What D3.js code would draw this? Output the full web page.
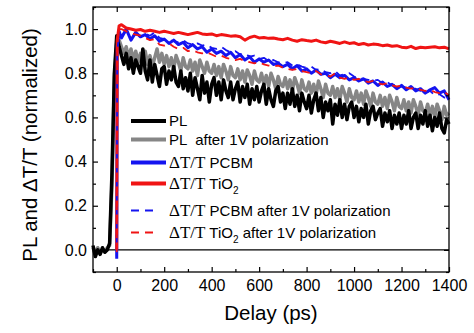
<!DOCTYPE html>
<html>
<head>
<meta charset="utf-8">
<script src="https://cdnjs.cloudflare.com/ajax/libs/d3/7.8.5/d3.min.js"></script>
<style>
body { margin: 0; background: #fff; }
text { font-family: "Liberation Sans", Arial, sans-serif; fill: #000; }
</style>
</head>
<body>
<svg id="chart" width="474" height="333"></svg>
<script>
// PL traces, delay in ps (10 ps steps)
var plDelay = [
  -100,-90,-80,-70,-60,-50,-40,-30,-20,-10,
  0,10,20,30,40,50,60,70,80,90,
  100,110,120,130,140,150,160,170,180,190,
  200,210,220,230,240,250,260,270,280,290,
  300,310,320,330,340,350,360,370,380,390,
  400,410,420,430,440,450,460,470,480,490,
  500,510,520,530,540,550,560,570,580,590,
  600,610,620,630,640,650,660,670,680,690,
  700,710,720,730,740,750,760,770,780,790,
  800,810,820,830,840,850,860,870,880,890,
  900,910,920,930,940,950,960,970,980,990,
  1000,1010,1020,1030,1040,1050,1060,1070,1080,1090,
  1100,1110,1120,1130,1140,1150,1160,1170,1180,1190,
  1200,1210,1220,1230,1240,1250,1260,1270,1280,1290,
  1300,1310,1320,1330,1340,1350,1360,1370,1380,1390,
  1400];

var plFresh = [
  0.02,-0.03,0.0,-0.02,0.01,-0.01,0.0,0.03,0.35,0.80,
  0.97,0.92,0.88,0.84,0.89,0.82,0.87,0.80,0.86,0.83,
  0.80,0.91,0.81,0.77,0.86,0.76,0.84,0.79,0.74,0.82,
  0.83,0.75,0.81,0.77,0.83,0.76,0.74,0.81,0.73,0.78,
  0.72,0.80,0.70,0.78,0.73,0.68,0.79,0.71,0.76,0.67,
  0.75,0.78,0.70,0.76,0.68,0.77,0.72,0.69,0.76,0.68,
  0.73,0.76,0.67,0.74,0.69,0.75,0.66,0.73,0.68,0.74,
  0.67,0.72,0.75,0.66,0.73,0.68,0.65,0.72,0.74,0.67,
  0.71,0.64,0.71,0.66,0.73,0.65,0.70,0.63,0.71,0.67,
  0.64,0.70,0.62,0.68,0.71,0.63,0.69,0.60,0.67,0.63,
  0.68,0.57,0.66,0.61,0.68,0.60,0.66,0.59,0.65,0.67,
  0.60,0.65,0.58,0.64,0.60,0.66,0.57,0.63,0.65,0.59,
  0.62,0.64,0.56,0.62,0.58,0.63,0.55,0.61,0.57,0.62,
  0.55,0.61,0.57,0.63,0.55,0.60,0.62,0.55,0.61,0.57,
  0.63,0.56,0.61,0.54,0.60,0.56,0.62,0.55,0.53,0.59,
  0.57];

var plPolarized = [
  0.01,-0.02,0.01,-0.01,0.0,-0.01,0.01,0.02,0.30,0.78,
  0.94,0.95,0.92,0.89,0.92,0.87,0.91,0.86,0.90,0.85,
  0.89,0.85,0.90,0.84,0.88,0.83,0.87,0.91,0.85,0.89,
  0.84,0.88,0.83,0.87,0.82,0.88,0.85,0.81,0.87,0.83,
  0.82,0.86,0.81,0.85,0.79,0.86,0.83,0.80,0.85,0.81,
  0.80,0.84,0.79,0.83,0.78,0.84,0.81,0.77,0.83,0.79,
  0.78,0.82,0.77,0.81,0.76,0.815,0.79,0.75,0.81,0.77,
  0.76,0.80,0.75,0.79,0.74,0.80,0.77,0.73,0.785,0.75,
  0.74,0.78,0.73,0.77,0.72,0.78,0.75,0.71,0.77,0.73,
  0.72,0.76,0.71,0.75,0.70,0.765,0.73,0.69,0.75,0.71,
  0.70,0.74,0.69,0.73,0.68,0.74,0.71,0.67,0.73,0.69,
  0.68,0.72,0.67,0.71,0.66,0.72,0.69,0.65,0.71,0.67,
  0.66,0.70,0.65,0.69,0.64,0.70,0.67,0.63,0.69,0.65,
  0.64,0.68,0.63,0.67,0.62,0.68,0.65,0.61,0.67,0.63,
  0.62,0.66,0.61,0.65,0.60,0.66,0.63,0.59,0.65,0.61,
  0.62];

// transient transmission traces, delay in ps
var taDelay = [
  0,2,10,
  20,40,60,80,100,120,140,160,180,200,
  220,240,260,280,300,320,340,360,380,400,
  420,440,460,480,500,520,540,560,580,600,
  620,640,660,680,700,720,740,760,780,800,
  820,840,860,880,900,920,940,960,980,1000,
  1020,1040,1060,1080,1100,1120,1140,1160,1180,1200,
  1220,1240,1260,1280,1300,1320,1340,1360,1380,1400];

var taPCBM = [
  -0.04,0.92,0.99,
  0.96,1.0,0.95,0.985,0.965,0.975,0.955,0.97,0.945,0.955,
  0.935,0.95,0.93,0.94,0.915,0.93,0.91,0.92,0.895,0.91,
  0.89,0.90,0.88,0.895,0.87,0.885,0.86,0.875,0.85,0.865,
  0.85,0.86,0.84,0.845,0.83,0.84,0.82,0.835,0.81,0.82,
  0.80,0.815,0.795,0.80,0.78,0.795,0.78,0.79,0.77,0.78,
  0.765,0.775,0.755,0.765,0.745,0.76,0.74,0.75,0.73,0.745,
  0.725,0.74,0.72,0.73,0.71,0.725,0.735,0.71,0.72,0.68];

var taTiO2 = [
  0.0,0.95,1.015,
  1.02,1.005,1.0,0.995,0.998,0.99,0.995,0.99,0.985,0.99,
  0.985,0.98,0.985,0.98,0.975,0.98,0.985,0.978,0.975,0.978,
  0.97,0.975,0.972,0.968,0.97,0.965,0.95,0.962,0.968,0.96,
  0.962,0.958,0.96,0.955,0.952,0.958,0.95,0.945,0.952,0.948,
  0.945,0.95,0.942,0.938,0.945,0.94,0.935,0.942,0.935,0.938,
  0.93,0.935,0.928,0.932,0.93,0.925,0.928,0.922,0.925,0.918,
  0.915,0.922,0.912,0.918,0.915,0.918,0.92,0.915,0.918,0.91];

var taPCBMPolarized = [
  -0.03,0.9,0.97,
  0.97,0.99,0.98,0.975,0.97,0.98,0.97,0.985,0.96,0.955,
  0.95,0.945,0.94,0.95,0.935,0.93,0.935,0.925,0.93,0.915,
  0.91,0.92,0.905,0.895,0.90,0.885,0.89,0.875,0.88,0.865,
  0.87,0.855,0.86,0.85,0.845,0.85,0.835,0.84,0.83,0.825,
  0.83,0.815,0.82,0.805,0.80,0.81,0.79,0.795,0.80,0.785,
  0.78,0.775,0.77,0.765,0.77,0.755,0.76,0.745,0.75,0.74,
  0.735,0.725,0.73,0.72,0.71,0.72,0.70,0.705,0.69,0.69];

var taTiO2Polarized = [
  -0.01,0.92,1.0,
  1.0,0.99,0.98,0.975,0.97,0.96,0.95,0.955,0.93,0.925,
  0.935,0.92,0.91,0.915,0.90,0.905,0.895,0.89,0.895,0.885,
  0.875,0.88,0.87,0.865,0.86,0.865,0.855,0.85,0.845,0.85,
  0.84,0.835,0.83,0.835,0.825,0.82,0.815,0.82,0.81,0.805,
  0.80,0.81,0.795,0.79,0.785,0.80,0.78,0.775,0.78,0.77,
  0.775,0.765,0.76,0.765,0.755,0.75,0.755,0.745,0.74,0.745,
  0.735,0.73,0.735,0.725,0.72,0.725,0.715,0.71,0.715,0.70];

var xTicks = [0,200,400,600,800,1000,1200,1400];
var xMinorTicks = [-100,100,300,500,700,900,1100,1300];
var yTicks = [0.0,0.2,0.4,0.6,0.8,1.0];
var yMinorTicks = [-0.1,0.1,0.3,0.5,0.7,0.9,1.1];

// legend text pieces: [text, kind] kind: s = sans, d = serif delta part, sub = subscript
var legendLabels = [
  [["PL","s"]],
  [["PL  after 1V polarization","s"]],
  [["\u0394T/T","d"],[" PCBM","s"]],
  [["\u0394T/T","d"],[" TiO","s"],["2","sub"]],
  [["\u0394T/T","d"],[" PCBM after 1V polarization","s"]],
  [["\u0394T/T","d"],[" TiO","s"],["2","sub"],[" after 1V polarization","s"]]
];

var series = [
  {delay: plDelay, values: plPolarized, color: "#868686", width: 3.5, dash: null, legend: 1},
  {delay: plDelay, values: plFresh, color: "#000000", width: 3.5, dash: null, legend: 0},
  {delay: taDelay, values: taPCBM, color: "#1414f0", width: 3, dash: null, legend: 2},
  {delay: taDelay, values: taTiO2, color: "#f01414", width: 3, dash: null, legend: 3},
  {delay: taDelay, values: taPCBMPolarized, color: "#1414f0", width: 1.8, dash: "8,6", legend: 4},
  {delay: taDelay, values: taTiO2Polarized, color: "#f01414", width: 1.8, dash: "8,6", legend: 5}
];

var mLeft = 93, mRight = 449, mTop = 7, mBottom = 272;

var svg = d3.select("#chart");

var x = d3.scaleLinear().domain([-100, 1400]).range([mLeft, mRight]);
var y = d3.scaleLinear().domain([-0.1, 1.1]).range([mBottom, mTop]);

// zero line
svg.append("line")
    .attr("x1", mLeft).attr("x2", mRight)
    .attr("y1", y(0)).attr("y2", y(0))
    .attr("stroke", "#000").attr("stroke-width", 1.2);

// curves
var lineGen = d3.line()
    .x(function(d) { return x(d[0]); })
    .y(function(d) { return y(d[1]); });

var plot = svg.append("g");
series.forEach(function(s) {
    var pts = s.delay.map(function(t, i) { return [t, s.values[i]]; });
    plot.append("path")
        .datum(pts)
        .attr("d", lineGen)
        .attr("fill", "none")
        .attr("stroke", s.color)
        .attr("stroke-width", s.width)
        .attr("stroke-linejoin", "round")
        .attr("stroke-dasharray", s.dash);
});

// axes with inward ticks on all sides
function styleAxis(g) {
    g.select(".domain").remove();
    g.selectAll(".tick line").attr("stroke", "#000").attr("stroke-width", 1.2);
    g.selectAll("text").style("font-size", "16px").attr("font-family", null);
}

svg.append("g").attr("transform", "translate(0," + mBottom + ")")
    .call(d3.axisBottom(x).tickValues(xTicks).tickSize(-5).tickPadding(8).tickFormat(d3.format("d")))
    .call(styleAxis);
svg.append("g").attr("transform", "translate(0," + mBottom + ")")
    .call(d3.axisBottom(x).tickValues(xMinorTicks).tickSize(-3).tickFormat(""))
    .call(styleAxis);
svg.append("g").attr("transform", "translate(0," + mTop + ")")
    .call(d3.axisTop(x).tickValues(xTicks).tickSize(-5).tickFormat(""))
    .call(styleAxis);
svg.append("g").attr("transform", "translate(0," + mTop + ")")
    .call(d3.axisTop(x).tickValues(xMinorTicks).tickSize(-3).tickFormat(""))
    .call(styleAxis);

svg.append("g").attr("transform", "translate(" + mLeft + ",0)")
    .call(d3.axisLeft(y).tickValues(yTicks).tickSize(-5).tickPadding(6).tickFormat(d3.format(".1f")))
    .call(styleAxis);
svg.append("g").attr("transform", "translate(" + mLeft + ",0)")
    .call(d3.axisLeft(y).tickValues(yMinorTicks).tickSize(-3).tickFormat(""))
    .call(styleAxis);
svg.append("g").attr("transform", "translate(" + mRight + ",0)")
    .call(d3.axisRight(y).tickValues(yTicks).tickSize(-5).tickFormat(""))
    .call(styleAxis);
svg.append("g").attr("transform", "translate(" + mRight + ",0)")
    .call(d3.axisRight(y).tickValues(yMinorTicks).tickSize(-3).tickFormat(""))
    .call(styleAxis);

// frame
svg.append("rect")
    .attr("x", mLeft).attr("y", mTop)
    .attr("width", mRight - mLeft).attr("height", mBottom - mTop)
    .attr("fill", "none").attr("stroke", "#000").attr("stroke-width", 1.3);

// axis titles
svg.append("text")
    .attr("x", (mLeft + mRight) / 2).attr("y", 320)
    .attr("text-anchor", "middle")
    .style("font-size", "20.5px")
    .text("Delay (ps)");

svg.append("text")
    .attr("transform", "translate(37,145) rotate(-90)")
    .attr("text-anchor", "middle")
    .style("font-size", "20.5px")
    .text("PL and \u0394T/T (normalized)");

// legend
var legendRows = [121, 139.5, 162.5, 183.5, 210.5, 232.5];
var legend = svg.append("g");
series.forEach(function(s) {
    var ly = legendRows[s.legend];
    var dashed = s.dash != null;
    legend.append("line")
        .attr("x1", 131).attr("x2", dashed ? 156 : 166)
        .attr("y1", ly).attr("y2", ly)
        .attr("stroke", s.color)
        .attr("stroke-width", dashed ? 2 : 4)
        .attr("stroke-dasharray", s.dash);

    var t = legend.append("text")
        .attr("x", 169).attr("y", ly)
        .attr("dy", "0.36em")
        .style("font-size", "15px")
        .style("white-space", "pre");
    legendLabels[s.legend].forEach(function(p) {
        var ts = t.append("tspan").text(p[0]);
        if (p[1] == "d") {
            ts.style("font-family", "'Liberation Serif', 'Times New Roman', serif").style("font-size", "17px");
        } else if (p[1] == "sub") {
            ts.style("font-size", "10px").attr("dy", "5");
        }
    });
    // back to the baseline after a subscript
    t.selectAll("tspan").each(function(d, i, nodes) {
        var prev = i > 0 ? d3.select(nodes[i - 1]) : null;
        if (prev && prev.attr("dy") == "5") d3.select(this).attr("dy", "-5");
    });
});
</script>
</body>
</html>
